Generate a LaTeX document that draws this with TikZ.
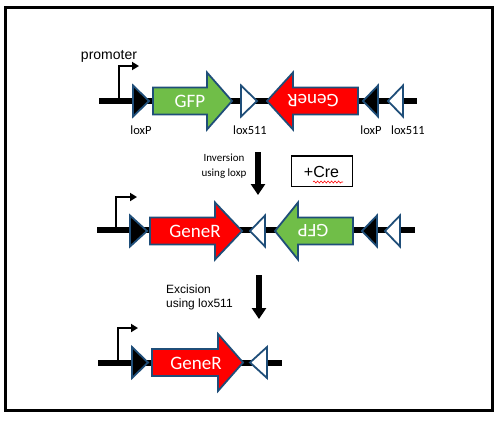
\documentclass[tikz,border=0pt]{standalone}
\usepackage{fontspec}
\setmainfont{Liberation Sans}
\newfontfamily\calfont{Carlito}
\usetikzlibrary{arrows.meta,decorations.pathmorphing}
\definecolor{gfpgreen}{RGB}{112,190,72}
\definecolor{outl}{RGB}{31,78,121}
\begin{document}
\begin{tikzpicture}[x=1pt,y=-1pt,
  dna/.style={line width=6pt,black},
  gene/.style={draw=outl,line width=1.8pt,line join=miter},
  loxblack/.style={draw=outl,fill=black,line width=1.8pt,line join=miter},
  loxwhite/.style={draw=outl,fill=white,line width=1.8pt,line join=miter},
  prom/.style={line width=2pt,-{Triangle[length=7pt,width=8pt]}},
  downarr/.style={line width=6pt,-{Triangle[length=11pt,width=14pt]}},
  genetext/.style={text=white,font=\calfont\fontsize{19}{19}\selectfont,inner sep=0pt},
  loxlabel/.style={font=\calfont\fontsize{12.5}{13}\selectfont,inner sep=0pt},
  frame/.style={draw=black,line width=3pt}]
\useasboundingbox (0,0) rectangle (500,421);
\draw[frame] (5,7) rectangle (492,410.7);
% right-pointing gene: start, headbase, tip, yc
\newcommand\rgene[5]{\draw[gene,fill=#5] (#1,#4-13.5) -- (#2,#4-13.5) -- (#2,#4-28.5) -- (#3,#4) -- (#2,#4+28.5) -- (#2,#4+13.5) -- (#1,#4+13.5) -- cycle;}
% left-pointing gene: tip, headbase, end, yc
\newcommand\lgene[5]{\draw[gene,fill=#5] (#3,#4-13.5) -- (#2,#4-13.5) -- (#2,#4-28.5) -- (#1,#4) -- (#2,#4+28.5) -- (#2,#4+13.5) -- (#3,#4+13.5) -- cycle;}
% right-pointing triangle: x0, x1, yc, style
\newcommand\rtri[4]{\draw[#4] (#1,#3-15.5) -- (#2,#3) -- (#1,#3+15.5) -- cycle;}
\newcommand\ltri[4]{\draw[#4] (#2,#3-15.5) -- (#1,#3) -- (#2,#3+15.5) -- cycle;}

% ---------- Row 1 ----------
\coordinate (d1s) at (99,101);
\coordinate (d1e) at (417,101);
\draw[dna] (d1s) -- (d1e);
\coordinate (p1a) at (119,101);
\coordinate (p1b) at (119,66);
\coordinate (p1c) at (139,66);
\draw[prom] (p1a) -- (p1b) -- (p1c);
\node[inner sep=0pt,font=\fontsize{14}{14}\selectfont] (promlab) at (109,56) {promoter};
\rtri{133}{149}{101}{loxblack}
\rgene{153}{207}{232}{101}{gfpgreen}
\rtri{241}{257}{101}{loxwhite}
\lgene{267}{293}{358}{101}{red}
\ltri{363}{378}{101}{loxblack}
\ltri{388}{403}{101}{loxwhite}
\node[genetext] (gfp1) at (190,101.5) {GFP};
\node[genetext,rotate=180] (gener1) at (313,100.5) {GeneR};
\node[loxlabel] (l1) at (141,130.5) {loxP};
\node[loxlabel] (l2) at (250,130.5) {lox511};
\node[loxlabel] (l3) at (371,130.5) {loxP};
\node[loxlabel] (l4) at (408,130.5) {lox511};

% ---------- arrow 1 ----------
\coordinate (a1s) at (258,152);
\coordinate (a1e) at (258,195);
\draw[downarr] (a1s) -- (a1e);
\node[inner sep=0pt,align=center,font=\calfont\fontsize{11}{15}\selectfont] (inv) at (224,166) {Inversion\\using loxp};
\node[draw=black,line width=1.2pt,minimum width=60.6pt,minimum height=30.7pt,inner sep=0pt] (crebox) at (322,171.3) {};
\node[inner sep=0pt,font=\fontsize{16}{16}\selectfont] (cre) at (321.5,171.5) {+Cre};
\coordinate (w1) at (313,182);
\coordinate (w2) at (343,182);
\draw[red,line width=0.6pt,decorate,decoration={snake,amplitude=1pt,segment length=3.5pt}] (w1) -- (w2);

% ---------- Row 2 ----------
\coordinate (d2s) at (97,230);
\coordinate (d2e) at (415,230);
\draw[dna] (d2s) -- (d2e);
\coordinate (p2a) at (116,230);
\coordinate (p2b) at (116,197);
\coordinate (p2c) at (137,197);
\draw[prom] (p2a) -- (p2b) -- (p2c);
\rtri{130}{147}{231}{loxblack}
\rgene{150}{215}{242}{231}{red}
\ltri{250}{265}{231}{loxwhite}
\lgene{275}{298}{353}{231}{gfpgreen}
\ltri{362}{377}{231}{loxblack}
\ltri{385}{400}{231}{loxwhite}
\node[genetext] (gener2) at (195,231.5) {GeneR};
\node[genetext,rotate=180] (gfp2) at (313,230.5) {GFP};

% ---------- arrow 2 ----------
\coordinate (a2s) at (259,275);
\coordinate (a2e) at (259,319);
\draw[downarr] (a2s) -- (a2e);
\node[inner sep=0pt,align=left,anchor=west,font=\fontsize{12}{13.3}\selectfont] (exc) at (166,297.5) {Excision\\using lox511};

% ---------- Row 3 ----------
\coordinate (d3s) at (98,362.5);
\coordinate (d3e) at (282,362.5);
\draw[dna] (d3s) -- (d3e);
\coordinate (p3a) at (118,362.5);
\coordinate (p3b) at (118,328);
\coordinate (p3c) at (138,328);
\draw[prom] (p3a) -- (p3b) -- (p3c);
\rtri{132}{148}{362.5}{loxblack}
\rgene{152}{218}{243}{362.5}{red}
\ltri{250}{267}{362.5}{loxwhite}
\node[genetext] (gener3) at (196,363) {GeneR};
\end{tikzpicture}
\end{document}
